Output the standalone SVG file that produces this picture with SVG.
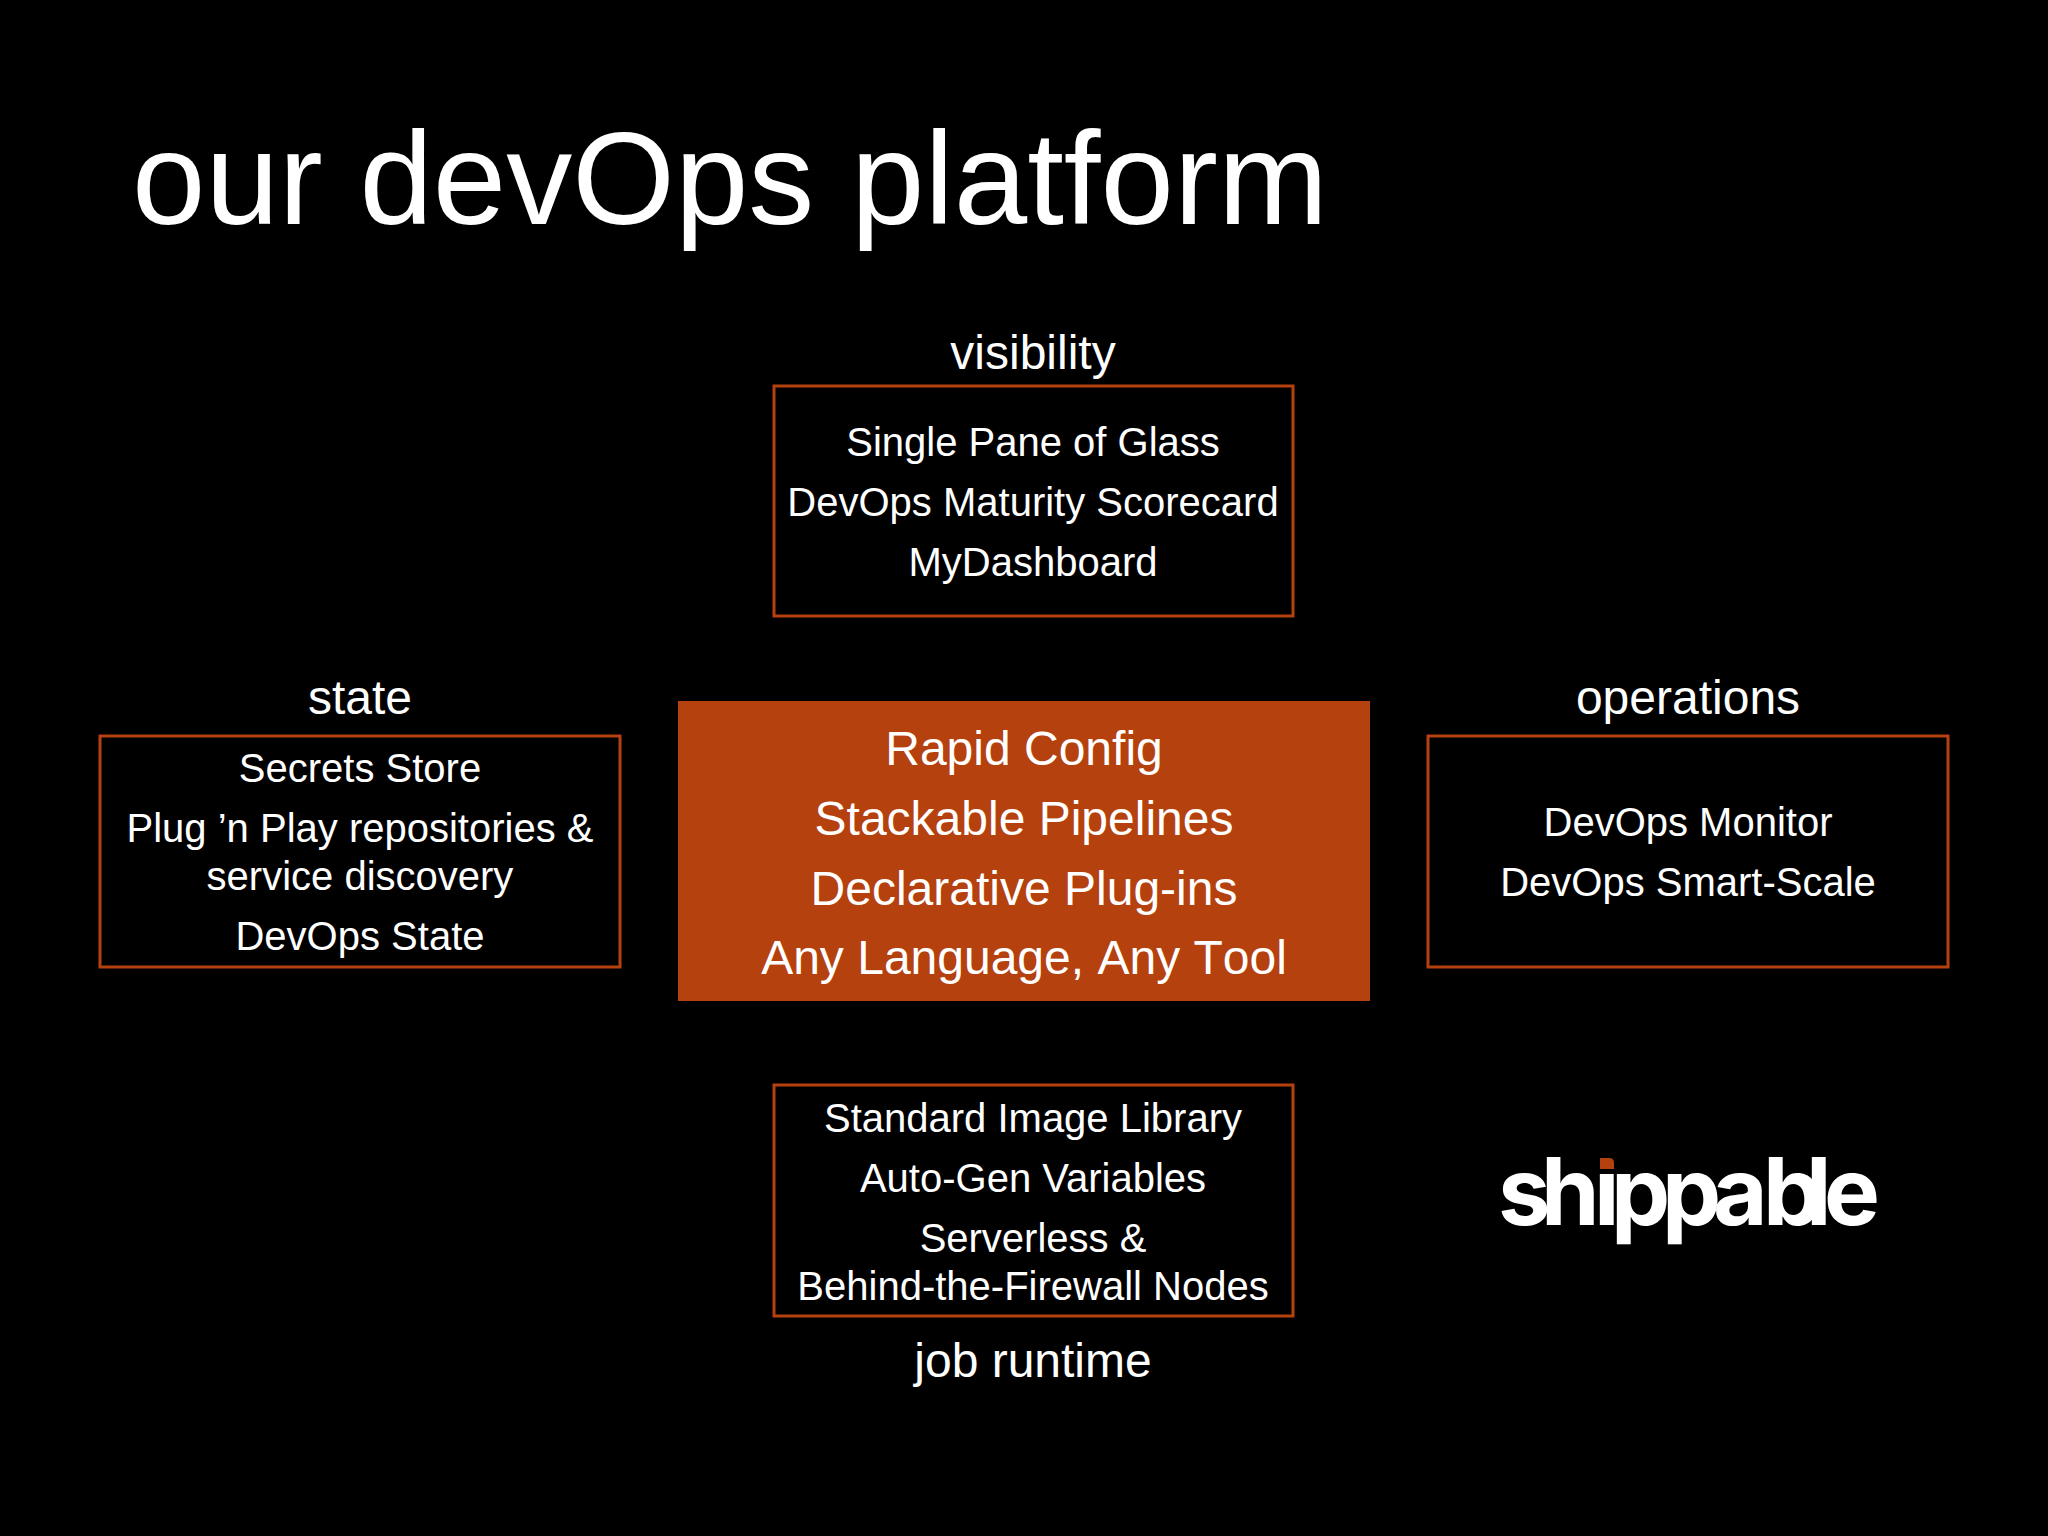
<svg xmlns="http://www.w3.org/2000/svg" width="2048" height="1536" viewBox="0 0 2048 1536">
<style>
text{font-family:"Liberation Sans",Arial,sans-serif;fill:#fff;text-anchor:middle}
.b{fill:none;stroke:#b5410e;stroke-width:3}
.h{font-size:48px}.t{font-size:40px}.c{font-size:48px}
</style>
<rect width="2048" height="1536" fill="#000"/>
<text x="132" y="224" style="font-size:132px;text-anchor:start">our devOps platform</text>
<g id="visibility"><text class="h" x="1033" y="369">visibility</text><rect class="b" x="774" y="386" width="519" height="230"/>
<text class="t" x="1033" y="456">Single Pane of Glass</text><text class="t" x="1033" y="516">DevOps Maturity Scorecard</text><text class="t" x="1033" y="576">MyDashboard</text></g>
<g id="state"><text class="h" x="360" y="714">state</text><rect class="b" x="100" y="736" width="520" height="231"/>
<text class="t" x="360" y="782">Secrets Store</text><text class="t" x="360" y="842">Plug ’n Play repositories &amp;</text><text class="t" x="360" y="890">service discovery</text><text class="t" x="360" y="950">DevOps State</text></g>
<g id="core"><rect x="678" y="701" width="692" height="300" fill="#b5410e"/>
<text class="c" x="1024" y="765">Rapid Config</text><text class="c" x="1024" y="835">Stackable Pipelines</text><text class="c" x="1024" y="905">Declarative Plug-ins</text><text class="c" x="1024" y="974" style="font-kerning:none">Any Language, Any Tool</text></g>
<g id="operations"><text class="h" x="1688" y="714">operations</text><rect class="b" x="1428" y="736" width="520" height="231"/>
<text class="t" x="1688" y="836">DevOps Monitor</text><text class="t" x="1688" y="896">DevOps Smart-Scale</text></g>
<g id="runtime"><rect class="b" x="774" y="1085" width="519" height="231"/>
<text class="t" x="1033" y="1132">Standard Image Library</text><text class="t" x="1033" y="1192">Auto-Gen Variables</text><text class="t" x="1033" y="1252">Serverless &amp;</text><text class="t" x="1033" y="1300">Behind-the-Firewall Nodes</text><text class="h" x="1033" y="1377">job runtime</text></g>
<g id="logo"><text x="1498 1541 1594 1611 1662 1713 1763 1806 1824" y="1225" style="font-family:Inter,'Liberation Sans',sans-serif;font-size:94px;font-weight:700;text-anchor:start">shippable</text>
<rect x="1595" y="1146" width="25" height="24" fill="#000"/>
<path d="M1600 1158h9q5 0 5 5v6h-14z" fill="#b5410e"/></g>
<g id="connectors"></g>
</svg>
